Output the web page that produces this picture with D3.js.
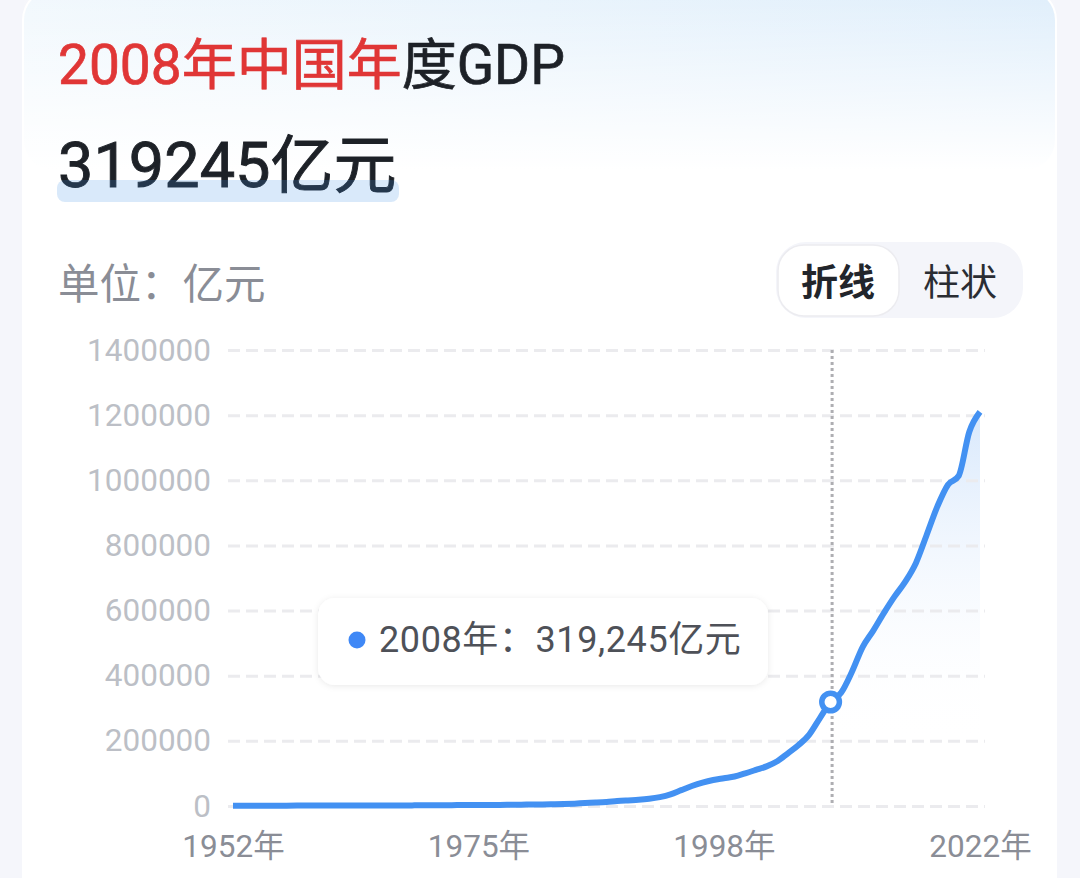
<!DOCTYPE html>
<html lang="zh-CN">
<head>
<meta charset="utf-8" />
<title>2008年中国年度GDP</title>
<script src="https://d3js.org/d3.v7.min.js"></script>
<style>
  html, body { margin: 0; padding: 0; background: #f5f6fb; }
  svg, svg text { font-family: Roboto, "Noto Sans CJK SC", sans-serif; }
  svg { display: block; }
</style>
</head>
<body>
<div id="chart"></div>
<script>
// values, 亿元
const years = [1952,1953,1954,1955,1956,1957,1958,1959,1960,1961,1962,1963,1964,1965,1966,1967,1968,1969,
  1970,1971,1972,1973,1974,1975,1976,1977,1978,1979,1980,1981,1982,1983,1984,1985,1986,1987,1988,1989,
  1990,1991,1992,1993,1994,1995,1996,1997,1998,1999,2000,2001,2002,2003,2004,2005,2006,2007,2008,2009,
  2010,2011,2012,2013,2014,2015,2016,2017,2018,2019,2020,2021,2022];
const gdp = [679,824,859,911,1030,1071,1312,1447,1470,1232,1162,1248,1470,1734,1889,1794,1744,1962,
  2279,2485,2552,2756,2828,3039,2989,3250,3679,4101,4588,4936,5373,6021,7279,9099,10376,12175,15180,17180,
  18873,22006,27195,35673,48638,61340,71814,79715,85196,90564,100280,110863,121717,137422,161840,187319,219439,270092,319245,348518,
  412119,487940,538580,592963,643563,688858,746395,832036,919281,986515,1013567,1149237,1210207];
const yTicks = [0,200000,400000,600000,800000,1000000,1200000,1400000];
const xTicks = [1952,1975,1998,2022];
const selectedYear = 2008;

const width = 1080, height = 878;
const svg = d3.select('#chart').append('svg').attr('width', width).attr('height', height);
const defs = svg.append('defs');

const x = d3.scaleLinear().domain([1952, 2022]).range([233, 980]);
const y = d3.scaleLinear().domain([0, 1400000]).range([806, 350]);

// card header tint
const tint = defs.append('linearGradient').attr('id', 'tint').attr('x1', 0).attr('x2', 1).attr('y1', 0).attr('y2', 0);
tint.append('stop').attr('offset', 0).attr('stop-color', '#f1f8fd');
tint.append('stop').attr('offset', 1).attr('stop-color', '#dfeefb');
const fade = defs.append('linearGradient').attr('id', 'fade').attr('x1', 0).attr('x2', 0).attr('y1', 0).attr('y2', 1);
fade.append('stop').attr('offset', 0).attr('stop-color', '#fff').attr('stop-opacity', 0);
fade.append('stop').attr('offset', 1).attr('stop-color', '#fff').attr('stop-opacity', 1);
const areaFill = defs.append('linearGradient').attr('id', 'areaFill').attr('gradientUnits', 'userSpaceOnUse')
  .attr('x1', 0).attr('x2', 0).attr('y1', y(1210207)).attr('y2', 745);
areaFill.append('stop').attr('offset', 0).attr('stop-color', '#d8e8fc');
areaFill.append('stop').attr('offset', 1).attr('stop-color', '#ffffff').attr('stop-opacity', 0);

svg.append('rect').attr('x', 22).attr('y', -12).attr('width', 1035).attr('height', 920).attr('rx', 32)
  .attr('fill', '#fff');
svg.append('rect').attr('x', 24).attr('y', -10).attr('width', 1031).attr('height', 180).attr('rx', 30)
  .attr('fill', 'url(#tint)');
svg.append('rect').attr('x', 24).attr('y', -10).attr('width', 1031).attr('height', 180)
  .attr('fill', 'url(#fade)');

// header
const title = svg.append('text').attr('x', 58).attr('y', 84).attr('font-size', 55)
  .attr('stroke-width', 0.7);
title.append('tspan').attr('fill', '#e03636').attr('stroke', '#e03636').text('2008年中国年');
title.append('tspan').attr('fill', '#1d2127').attr('stroke', '#1d2127').text('度GDP');

svg.append('text').attr('x', 58).attr('y', 187).attr('font-size', 63)
  .attr('fill', '#1d2127').attr('stroke', '#1d2127').attr('stroke-width', 0.9).text('319245亿元');
svg.append('rect').attr('x', 57).attr('y', 180).attr('width', 342).attr('height', 22).attr('rx', 8)
  .attr('fill', '#3f8fe6').attr('opacity', 0.2);

svg.append('text').attr('x', 58).attr('y', 299).attr('font-size', 41.5).attr('fill', '#8a8d96').text('单位\uFF1A亿元');

// toggle
svg.append('rect').attr('x', 776).attr('y', 242).attr('width', 247).attr('height', 76).attr('rx', 30).attr('fill', '#f4f5fa');
svg.append('rect').attr('x', 778).attr('y', 245).attr('width', 121).attr('height', 71).attr('rx', 26)
  .attr('fill', '#fff').attr('stroke', '#ececf0').attr('stroke-width', 1.5);
svg.append('text').attr('x', 838).attr('y', 296).attr('text-anchor', 'middle').attr('font-size', 37)
  .attr('font-weight', 700).attr('fill', '#22252b').text('折线');
svg.append('text').attr('x', 960).attr('y', 296).attr('text-anchor', 'middle').attr('font-size', 37)
  .attr('fill', '#2a2d33').text('柱状');

// area first, grid shows through it
const area = d3.area().x((d, i) => x(years[i])).y0(y(0)).y1(d => y(d)).curve(d3.curveMonotoneX);
svg.append('path').datum(gdp).attr('d', area).attr('fill', 'url(#areaFill)');

// y axis with dashed grid
const yAxis = svg.append('g').attr('transform', `translate(${x.range()[0]},0)`)
  .call(d3.axisLeft(y).tickValues(yTicks).tickFormat(d => d).tickSize(0).tickPadding(22));
yAxis.select('.domain').remove();
yAxis.selectAll('text').attr('font-size', 31.5).attr('fill', '#bcbfc6');
yAxis.selectAll('.tick').append('line')
  .attr('x1', -5).attr('x2', 752)
  .attr('stroke', '#ebebee').attr('stroke-width', 3).attr('stroke-dasharray', '12 6');

// x axis
const xAxis = svg.append('g').attr('transform', `translate(0,${y(0)})`)
  .call(d3.axisBottom(x).tickValues(xTicks).tickFormat(d => d + '年').tickSize(0).tickPadding(29));
xAxis.select('.domain').remove();
xAxis.selectAll('text').attr('font-size', 31.5).attr('fill', '#8a8d96');

// crosshair
const selIndex = years.indexOf(selectedYear);
svg.append('line').attr('x1', x(selectedYear) + 1.5).attr('x2', x(selectedYear) + 1.5).attr('y1', y(1400000)).attr('y2', y(0))
  .attr('stroke', '#aeaeb2').attr('stroke-width', 3).attr('stroke-dasharray', '3 3');

// line
const line = d3.line().x((d, i) => x(years[i])).y(d => y(d)).curve(d3.curveMonotoneX);
svg.append('path').datum(gdp).attr('d', line).attr('fill', 'none')
  .attr('stroke', '#4391f2').attr('stroke-width', 6);

svg.append('circle').attr('cx', x(selectedYear)).attr('cy', y(gdp[selIndex])).attr('r', 8.8)
  .attr('fill', '#fff').attr('stroke', '#4391f2').attr('stroke-width', 5.5);

// tooltip
defs.append('filter').attr('id', 'tipShadow').attr('x', '-10%').attr('y', '-20%').attr('width', '120%').attr('height', '140%')
  .append('feDropShadow').attr('dx', 0).attr('dy', 1).attr('stdDeviation', 3)
  .attr('flood-color', '#000').attr('flood-opacity', 0.09);
svg.append('rect').attr('x', 318).attr('y', 598).attr('width', 450).attr('height', 87).attr('rx', 17)
  .attr('fill', '#fff').attr('filter', 'url(#tipShadow)');
svg.append('circle').attr('cx', 357).attr('cy', 640).attr('r', 8.5).attr('fill', '#3f88f6');
svg.append('text').attr('x', 379).attr('y', 652).attr('font-size', 36).attr('letter-spacing', 0.6).attr('fill', '#4e5158')
  .text(`${selectedYear}年\uFF1A${d3.format(',')(gdp[selIndex])}亿元`);
</script>
</body>
</html>
